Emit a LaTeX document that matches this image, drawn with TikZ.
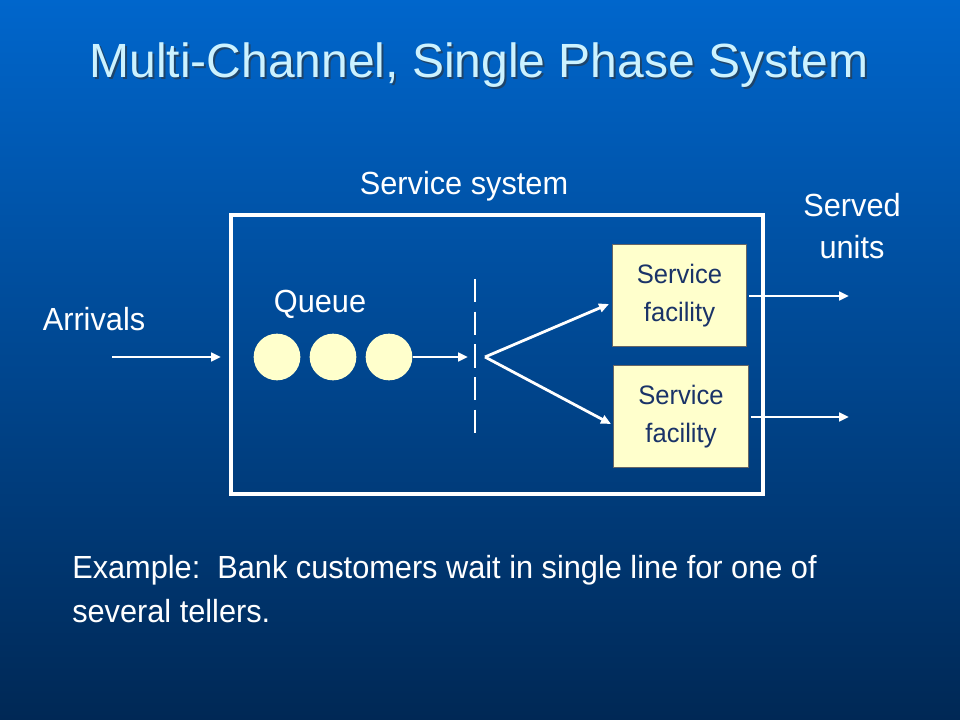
\documentclass[tikz,border=0pt]{standalone}
\usepackage{fontspec}
\setmainfont{Liberation Sans}
\newfontfamily\bodyfont[FakeStretch=0.96]{Liberation Sans}
\usetikzlibrary{arrows.meta}
\definecolor{bgtop}{HTML}{0066CC}
\definecolor{bgbot}{HTML}{002855}
\definecolor{pale}{HTML}{FFFFCC}
\definecolor{titlecol}{HTML}{CCF2FF}
\definecolor{boxtext}{HTML}{1A3368}
\tikzset{
  lbl/.style={text=white, font=\bodyfont\fontsize{24}{34}\selectfont, inner sep=0pt, anchor=base},
  flow/.style={white, line width=2.1pt, -{Triangle[length=7.5pt,width=6.5pt]}},
  facility/.style={draw=black!60, line width=0.6pt, fill=pale, minimum width=101pt, minimum height=76pt,
     inner sep=0pt, align=center, text=boxtext, font=\bodyfont\fontsize{20}{28.5}\selectfont},
  client/.style={circle, fill=pale, minimum size=35pt, inner sep=0pt},
}
\begin{document}
\begin{tikzpicture}[x=0.75pt,y=-0.75pt]
\useasboundingbox (0,0) rectangle (960,720);
\shade[top color=bgtop, bottom color=bgbot] (0,0) rectangle (960,720);
% title
\node[anchor=base, inner sep=0pt, text=black!80, opacity=0.6, font=\fontsize{36}{40}\selectfont] (titleshadow) at (481,80) {Multi-Channel, Single Phase System};
\node[anchor=base, inner sep=0pt, text=titlecol, font=\fontsize{36}{40}\selectfont] (title) at (479,78) {Multi-Channel, Single Phase System};
% service system box
\node[draw=white, line width=3pt, minimum width=399pt, minimum height=209pt, inner sep=0pt] (sys) at (497,354.5) {};
\node[lbl] (systext) at (464,195) {Service system};
% labels
\node[lbl] (arrivals) at (94,330) {Arrivals};
\node[lbl] (queue) at (320,312) {Queue};
\node[lbl] (served) at (852,217) {Served};
\node[lbl] (units) at (852,259) {units};
% circles
\node[client] (c1) at (277,357) {};
\node[client] (c2) at (333,357) {};
\node[client] (c3) at (389,357) {};
% facilities
\node[facility] (f1) at (679.5,295.5) {Service\\facility};
\node[facility] (f2) at (681,416.5) {Service\\facility};
% coordinates
\coordinate (arrA) at (112,357);
\coordinate (arrB) at (221,357);
\coordinate (qend) at (468,357);
\coordinate (split) at (485,357);
\coordinate (dtop) at (475,279);
\coordinate (dbot) at (475,434);
\coordinate (o1) at (849,296);
\coordinate (o2) at (849,417);
% connectors
\draw[flow] (arrA) -- (arrB);
\draw[flow] (c3.east) -- (qend);
\draw[white, line width=2.2pt, dash pattern=on 17.5pt off 7pt] (dtop) -- (dbot);
\draw[flow] (split) -- (609,304);
\draw[flow] (split) -- (611,424);
\draw[flow] ([xshift=1.5pt]f1.east |- o1) -- (o1);
\draw[flow] ([xshift=1.5pt]f2.east |- o2) -- (o2);
% example
\node[lbl, anchor=base west] (ex1) at (72,578) {Example:\ \ Bank customers wait in single line for one of};
\node[lbl, anchor=base west] (ex2) at (72,622) {several tellers.};
\end{tikzpicture}
\end{document}
